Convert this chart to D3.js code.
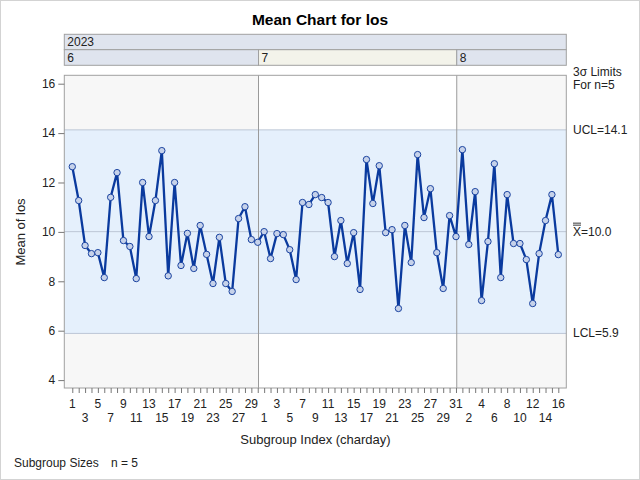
<!DOCTYPE html>
<html><head><meta charset="utf-8">
<script src="https://cdn.jsdelivr.net/npm/d3@7"></script>
<style>body{margin:0;background:#fff}svg{display:block;font-family:"Liberation Sans",Arial,sans-serif}</style>
</head><body><svg id="c" width="640" height="480"></svg>
<script>
const phases = ["6", "7", "8"];
const phaseDays = [30, 31, 16];
const yearLabel = "2023";
const means = [
 12.64, 11.27, 9.45, 9.12, 9.16, 8.15, 11.40, 12.40, 9.65, 9.41,
 8.11, 12.00, 9.81, 11.27, 13.29, 8.22, 12.00, 8.64, 9.94, 8.52,
 10.26, 9.09, 7.91, 9.78, 7.91, 7.59, 10.54, 11.02, 9.69, 9.58,
 10.01, 8.92, 9.93, 9.89, 9.28, 8.07, 11.19, 11.11, 11.51, 11.39,
 11.19, 9.00, 10.46, 8.72, 9.97, 7.67, 12.93, 11.15, 12.68, 9.97,
 10.09, 6.90, 10.26, 8.76, 13.13, 10.58, 11.75, 9.16, 7.71, 10.66,
 9.81,
 13.33, 9.49, 11.63, 7.22, 9.61, 12.76, 8.15, 11.51, 9.53, 9.53,
 8.88, 7.10, 9.12, 10.46, 11.51, 9.08
];
const ucl = 14.13, center = 10.01, lcl = 5.89;
const limitLabels = ["UCL=14.1", "=10.0", "LCL=5.9"];
const yTicks = [4, 6, 8, 10, 12, 14, 16];

// build index/day table
const pts = [];
let idx = 1;
phaseDays.forEach((n, p) => { for (let d = 1; d <= n; d++) pts.push({i: idx++, day: d, phase: p, v: means[idx - 2]}); });
const N = pts.length;

const svg = d3.select("#c");
const L = 64.3, R = 566.3, T = 75.3, B = 388;
const x = d3.scaleLinear().domain([-0.25, N + 1.25]).range([L, R]);
const y = d3.scaleLinear().domain([3.68, 16.34]).range([B, T]);

// outer border
svg.append("rect").attr("x", 0.5).attr("y", 0.5).attr("width", 639).attr("height", 479).attr("fill", "none").attr("stroke", "#d3d3d3");

// phase extents
let start = 0; const ext = [];
phaseDays.forEach((n, p) => { const a = start, b = start + n; ext.push([p === 0 ? L : x(a + 0.12), p === phaseDays.length - 1 ? R : x(b + 0.12)]); start = b; });

// backgrounds
ext.forEach((e, p) => {
  svg.append("rect").attr("x", e[0]).attr("y", T).attr("width", e[1] - e[0]).attr("height", B - T).attr("fill", p === 1 ? "#ffffff" : "#f7f7f7");
});
svg.append("rect").attr("x", L).attr("y", y(ucl)).attr("width", R - L).attr("height", y(lcl) - y(ucl)).attr("fill", "#e5f0fc");
[ucl, center, lcl].forEach(v => svg.append("line").attr("x1", L).attr("x2", R).attr("y1", y(v)).attr("y2", y(v)).attr("stroke", "#bcc6d6").attr("stroke-width", 1));

// phase boundaries
ext.slice(1).forEach(e => svg.append("line").attr("x1", e[0]).attr("x2", e[0]).attr("y1", T).attr("y2", B).attr("stroke", "#9a9a9a"));

// frame
svg.append("rect").attr("x", L).attr("y", T).attr("width", R - L).attr("height", B - T).attr("fill", "none").attr("stroke", "#a0a0a0");

// header boxes
const hb = svg.append("g");
hb.append("rect").attr("x", L).attr("y", 34.3).attr("width", R - L).attr("height", 15.4).attr("fill", "#dfe4ee").attr("stroke", "#a0a0a0");
hb.append("text").attr("x", L + 3).attr("y", 46).attr("font-size", 12).attr("fill", "#222").text(yearLabel);
ext.forEach((e, p) => {
  hb.append("rect").attr("x", e[0]).attr("y", 49.7).attr("width", e[1] - e[0]).attr("height", 15.6).attr("fill", p === 1 ? "#f3f3ea" : "#dfe4ee").attr("stroke", "#a0a0a0");
  hb.append("text").attr("x", e[0] + 3).attr("y", 62).attr("font-size", 12).attr("fill", "#222").text(phases[p]);
});

// title
svg.append("text").attr("x", 320).attr("y", 25).attr("text-anchor", "middle").attr("font-size", 15.5).attr("font-weight", "bold").attr("fill", "#000").text("Mean Chart for los");

// y axis
const ya = svg.append("g").attr("transform", `translate(${L},0)`).call(d3.axisLeft(y).tickValues(yTicks).tickSize(6).tickPadding(3));
ya.select(".domain").remove();
ya.selectAll("line").attr("stroke", "#777");
ya.selectAll("text").attr("font-size", 12).attr("fill", "#222").attr("font-family", "Liberation Sans, Arial, sans-serif");
svg.append("text").attr("transform", "translate(25,232) rotate(-90)").attr("text-anchor", "middle").attr("font-size", 13).attr("fill", "#222").text("Mean of los");

// x axis
const xa = svg.append("g").attr("transform", `translate(0,${B})`).call(d3.axisBottom(x).tickValues(pts.map(d => d.i)).tickSize(5).tickFormat(""));
xa.select(".domain").remove();
xa.selectAll("line").attr("stroke", "#777");
pts.filter(d => d.i % 2 === 1).forEach(d => {
  const row = ((d.i - 1) / 2) % 2;
  svg.append("text").attr("x", x(d.i)).attr("y", row === 0 ? 408 : 422).attr("text-anchor", "middle").attr("font-size", 12).attr("fill", "#222").text(d.day);
});
svg.append("text").attr("x", 315.5).attr("y", 444).attr("text-anchor", "middle").attr("font-size", 13).attr("fill", "#222").text("Subgroup Index (charday)");
svg.append("text").attr("x", 14).attr("y", 467).attr("font-size", 12).attr("fill", "#222").text("Subgroup Sizes");
svg.append("text").attr("x", 111).attr("y", 467).attr("font-size", 12).attr("fill", "#222").text("n = 5");

// right labels
const rx = 573;
svg.append("text").attr("x", rx).attr("y", 76).attr("font-size", 12).attr("fill", "#222").text("3σ Limits");
svg.append("text").attr("x", rx).attr("y", 89).attr("font-size", 12).attr("fill", "#222").text("For n=5");
svg.append("text").attr("x", rx).attr("y", y(ucl) + 4).attr("font-size", 12).attr("fill", "#222").text(limitLabels[0]);
const ct = svg.append("text").attr("x", rx).attr("y", y(center) + 4).attr("font-size", 12).attr("fill", "#222");
ct.append("tspan").text("X");
ct.append("tspan").text(limitLabels[1]);
[-6.5, -8.5].forEach(o => svg.append("line").attr("x1", rx).attr("x2", rx + 8).attr("y1", y(center) + o).attr("y2", y(center) + o).attr("stroke", "#222").attr("stroke-width", 0.9));
svg.append("text").attr("x", rx).attr("y", y(lcl) + 4).attr("font-size", 12).attr("fill", "#222").text(limitLabels[2]);

// series
svg.append("path").datum(pts).attr("fill", "none").attr("stroke", "#0a3a9e").attr("stroke-width", 2.3).attr("stroke-linejoin", "round")
  .attr("d", d3.line().x(d => x(d.i)).y(d => y(d.v)));
svg.selectAll("circle.pt").data(pts).enter().append("circle").attr("class", "pt")
  .attr("cx", d => x(d.i)).attr("cy", d => y(d.v)).attr("r", 3.2)
  .attr("fill", "#c6d2ea").attr("stroke", "#1a43a0").attr("stroke-width", 1);
</script></body></html>
